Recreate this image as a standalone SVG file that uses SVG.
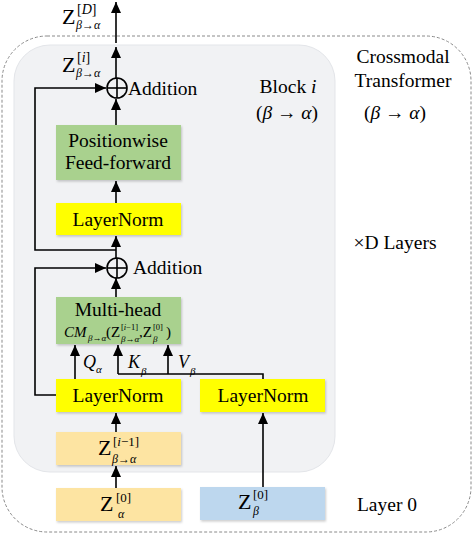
<svg xmlns="http://www.w3.org/2000/svg" width="474" height="560" viewBox="0 0 474 560">
<style>
text{font-family:"Liberation Serif","Times New Roman",serif;fill:#000}
.lb{font-size:19.5px}
.c{text-anchor:middle}
.it{font-style:italic}
.ln{stroke:#000;stroke-width:1.6;fill:none}
.arr{stroke:#000;stroke-width:1.6;fill:none;marker-end:url(#ah)}
.yel{fill:#ffff00}
.grn{fill:#a9d18e}
.org{fill:#fde4a2}
.blu{fill:#bdd7ee}
</style>
<defs>
<marker id="ah" markerUnits="userSpaceOnUse" markerWidth="12" markerHeight="12" refX="11" refY="5" orient="auto">
<path d="M0,0 L11,5 L0,10 z" fill="#000"/>
</marker>
<filter id="sh" x="-5%" y="-10%" width="115%" height="130%">
<feDropShadow dx="1" dy="1.5" stdDeviation="1" flood-color="#000" flood-opacity="0.2"/>
</filter>
</defs>
<rect width="474" height="560" fill="#fff"/>
<g id="outer">
<rect x="2" y="36" width="469" height="496" rx="45" ry="45" fill="none" stroke="#8a8a8a" stroke-width="1" stroke-dasharray="3,2"/>
<text class="lb c" x="403" y="63">Crossmodal</text>
<text class="lb c" x="403" y="87">Transformer</text>
<text class="lb c" x="395" y="119">(<tspan class="it">β</tspan> → <tspan class="it">α</tspan>)</text>
<text class="lb c" x="395" y="249">×D Layers</text>
<text class="lb c" x="387" y="511">Layer 0</text>
</g>
<g id="block">
<rect x="14" y="45" width="321" height="427" rx="36" ry="36" fill="#f1f2f4" stroke="#e3e5e9" stroke-width="1"/>
<text class="lb c" x="288" y="93">Block <tspan class="it">i</tspan></text>
<text class="lb c" x="287" y="119">(<tspan class="it">β</tspan> → <tspan class="it">α</tspan>)</text>
</g>
<g id="connectors">
<line class="arr" x1="116" y1="43" x2="116" y2="2"/>
<line class="arr" x1="116" y1="78" x2="116" y2="47"/>
<line class="arr" x1="116" y1="125" x2="116" y2="99"/>
<line class="arr" x1="116" y1="203" x2="116" y2="181"/>
<polyline class="arr" points="116,250 35,250 35,88 106,88"/>
<line class="arr" x1="116" y1="258" x2="116" y2="236"/>
<line class="arr" x1="116" y1="297" x2="116" y2="278"/>
<polyline class="arr" points="56,395 35,395 35,268 106,268"/>
<line class="arr" x1="75" y1="379" x2="75" y2="345"/>
<polyline class="ln" points="263,379 263,374 118,374"/>
<line class="arr" x1="118" y1="374" x2="118" y2="345"/>
<line class="arr" x1="168" y1="374" x2="168" y2="345"/>
<line class="arr" x1="116" y1="432" x2="116" y2="413"/>
<line class="arr" x1="116" y1="488" x2="116" y2="466"/>
<line class="arr" x1="263" y1="487" x2="263" y2="413"/>
</g>
<g id="out-label">
<text x="62" y="24" font-size="22">Z</text>
<text x="77" y="14" font-size="14">[<tspan class="it">D</tspan>]</text>
<text x="76" y="29" font-size="12" class="it">β→α</text>
</g>
<g id="block-out-label">
<text x="62" y="72" font-size="22">Z</text>
<text x="77" y="62" font-size="14">[<tspan class="it">i</tspan>]</text>
<text x="76" y="77" font-size="12" class="it">β→α</text>
</g>
<g id="add1">
<circle cx="117" cy="88" r="10" fill="none" stroke="#000" stroke-width="1.6"/>
<line class="ln" x1="107" y1="88" x2="127" y2="88"/>
<line class="ln" x1="117" y1="78" x2="117" y2="98"/>
<text class="lb" x="128" y="95">Addition</text>
</g>
<g id="ffn">
<rect class="grn" x="56" y="125" width="125" height="55" filter="url(#sh)"/>
<text class="lb c" x="118" y="147">Positionwise</text>
<text class="lb c" x="118" y="169">Feed-forward</text>
</g>
<g id="ln1">
<rect class="yel" x="56" y="203" width="125" height="32" filter="url(#sh)"/>
<text class="lb c" x="118" y="226">LayerNorm</text>
</g>
<g id="add2">
<circle cx="117" cy="268" r="10" fill="none" stroke="#000" stroke-width="1.6"/>
<line class="ln" x1="107" y1="268" x2="127" y2="268"/>
<line class="ln" x1="117" y1="258" x2="117" y2="278"/>
<text class="lb" x="133" y="274">Addition</text>
</g>
<g id="mha">
<rect class="grn" x="56" y="297" width="125" height="47" filter="url(#sh)"/>
<text class="lb c" x="118" y="316">Multi-head</text>
<text font-size="15"><tspan x="64" y="337" class="it">CM</tspan><tspan x="88" y="341" font-size="9" class="it">β→α</tspan><tspan x="106" y="337">(Z</tspan><tspan x="121" y="330" font-size="8.5">[<tspan class="it">i</tspan>−1]</tspan><tspan x="121" y="342" font-size="9" class="it">β→α</tspan><tspan x="139" y="337">,Z</tspan><tspan x="153" y="330" font-size="8.5">[0]</tspan><tspan x="153" y="342" font-size="9" class="it">β</tspan><tspan x="166" y="337">)</tspan></text>
</g>
<g id="qkv-labels">
<text x="83" y="368" font-size="18" class="it">Q</text><text x="96" y="373" font-size="11" class="it">α</text>
<text x="128" y="368" font-size="18" class="it">K</text><text x="141" y="375" font-size="11" class="it">β</text>
<text x="178" y="368" font-size="18" class="it">V</text><text x="190" y="375" font-size="11" class="it">β</text>
</g>
<g id="ln2">
<rect class="yel" x="56" y="379" width="125" height="33" filter="url(#sh)"/>
<text class="lb c" x="118" y="402">LayerNorm</text>
</g>
<g id="ln3">
<rect class="yel" x="200" y="379" width="125" height="33" filter="url(#sh)"/>
<text class="lb c" x="263" y="402">LayerNorm</text>
</g>
<g id="zprev">
<rect class="org" x="56" y="432" width="125" height="33" filter="url(#sh)"/>
<text x="98" y="455" font-size="22">Z</text>
<text x="113" y="446" font-size="13">[<tspan class="it">i</tspan>−1]</text>
<text x="112" y="463" font-size="12" class="it">β→α</text>
</g>
<g id="zalpha">
<rect class="org" x="56" y="488" width="125" height="33" filter="url(#sh)"/>
<text x="100" y="511" font-size="22">Z</text>
<text x="116" y="502" font-size="13">[0]</text>
<text x="118" y="518" font-size="12" class="it">α</text>
</g>
<g id="zbeta">
<rect class="blu" x="200" y="487" width="125" height="33" filter="url(#sh)"/>
<text x="238" y="509" font-size="22">Z</text>
<text x="253" y="499" font-size="13">[0]</text>
<text x="253" y="515" font-size="12" class="it">β</text>
</g>
</svg>
